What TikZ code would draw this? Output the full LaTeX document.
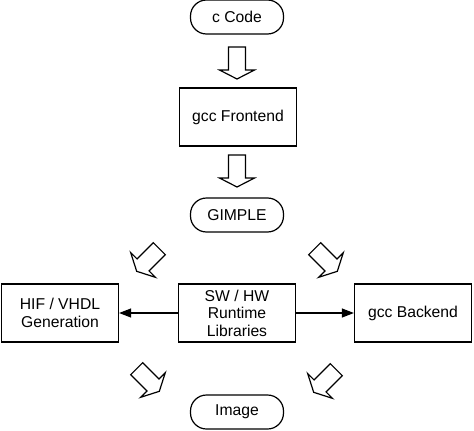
\documentclass[tikz,border=0pt]{standalone}
\usepackage{fontspec}
\setmainfont{Liberation Sans}
\usetikzlibrary{arrows.meta}
\begin{document}
\begin{tikzpicture}[x=1pt,y=-1pt,
  every node/.style={font=\fontsize{15.7}{17.5}\selectfont, align=center, inner sep=0pt},
  stadium/.style={draw, line width=1.2pt, minimum width=93pt, minimum height=34pt, rounded corners=16pt},
  procbox/.style={draw, line width=1.2pt, minimum width=117pt, minimum height=58pt},
  arrowline/.style={draw, line width=1.2pt, line join=miter},
  conn/.style={line width=1.1pt, -{Triangle[length=12pt,width=9pt]}},
  blockarrow/.pic={\path[arrowline] (-8.5,-16)--(8.5,-16)--(8.5,7)--(17.5,7)--(0,16)--(-17.5,7)--(-8.5,7)--cycle;}
]
\useasboundingbox (0,0) rectangle (474,431);
\node[stadium] (ccode) at (237,17) {c Code};
\node[procbox] (front) at (238,117) {gcc Frontend};
\node[stadium] (gimple) at (237,215) {GIMPLE};
\node[procbox] (hif) at (60,313) {HIF / VHDL\\Generation};
\node[procbox] (sw) at (237,313) {SW / HW\\Runtime\\Libraries};
\node[procbox] (back) at (413,313) {gcc Backend};
\node[stadium] (image) at (237,412) {Image};
\pic (a1) at (237,63) {blockarrow};
\pic (a2) at (237,171) {blockarrow};
\pic[rotate=-45] (a3) at (148,260) {blockarrow};
\pic[rotate=45] (a4) at (326,260) {blockarrow};
\pic[rotate=45] (a5) at (148,380) {blockarrow};
\pic[rotate=-45] (a6) at (325,381) {blockarrow};
\draw[conn] (sw.west) -- (hif.east);
\draw[conn] (sw.east) -- (back.west);
\end{tikzpicture}
\end{document}
